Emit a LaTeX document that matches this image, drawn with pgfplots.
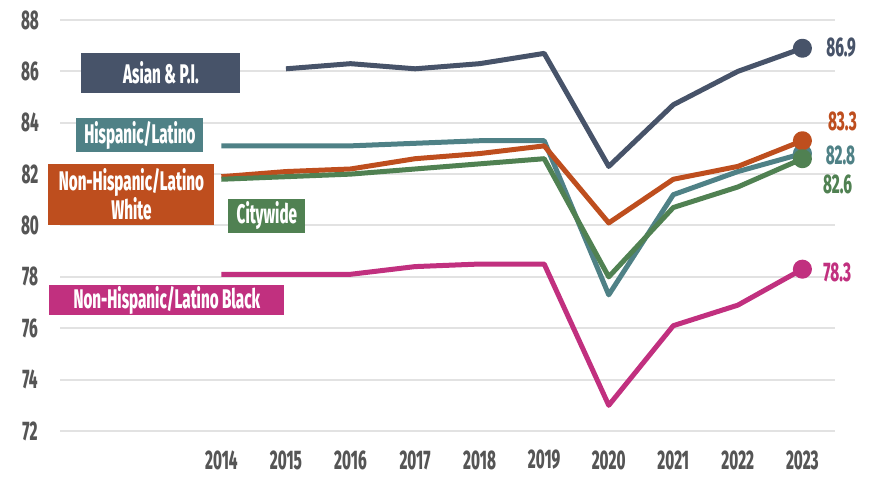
\documentclass[border=0pt]{standalone}
\usepackage{fontspec}
\setmainfont{Fira Sans}[FakeStretch=0.565, BoldFont={Fira Sans ExtraBold}]
\usepackage{pgfplots}
\pgfplotsset{compat=1.18}
\definecolor{asian}{HTML}{475369}
\definecolor{hisp}{HTML}{4F8186}
\definecolor{cityw}{HTML}{508152}
\definecolor{gridc}{HTML}{E2E2E2}
\definecolor{tickc}{HTML}{555555}
\definecolor{whiteorg}{HTML}{BE4E1E}
\definecolor{blackmag}{HTML}{C1307F}
\definecolor{pw}{HTML}{FFFFFF}
\newcommand{\bigf}{\bfseries\fontsize{27}{26}\selectfont}
\begin{document}
\begin{tikzpicture}
\begin{axis}[
  scale only axis, width=774.7bp, height=411bp,
  xmin=2011.5, xmax=2023.5, ymin=72, ymax=88,
  ytick={72,74,...,88}, xtick={2014,...,2023},
  ymajorgrids, grid style={gridc, line width=2bp},
  axis line style={draw=none}, major tick style={draw=none},
  /pgf/number format/assume math mode=true,
  /pgf/number format/1000 sep={},
  tick label style={font=\bigf, text=tickc},
  yticklabel style={anchor=center, xshift=-30bp},
  xticklabel style={anchor=center, yshift=-29bp},
  clip=false,
  every axis plot/.append style={line width=5bp, line join=round},
]
\addplot[blackmag, mark=none] coordinates {(2014,78.1)(2015,78.1)(2016,78.1)(2017,78.4)(2018,78.5)(2019,78.5)(2020,73.0)(2021,76.1)(2022,76.9)(2023,78.3)};
\addplot[asian, mark=none] coordinates {(2015,86.1)(2016,86.3)(2017,86.1)(2018,86.3)(2019,86.7)(2020,82.3)(2021,84.7)(2022,86.0)(2023,86.9)};
\addplot[hisp, mark=none] coordinates {(2014,83.1)(2015,83.1)(2016,83.1)(2017,83.2)(2018,83.3)(2019,83.3)(2020,77.3)(2021,81.2)(2022,82.1)(2023,82.8)};
\addplot[whiteorg, mark=none] coordinates {(2014,81.9)(2015,82.1)(2016,82.2)(2017,82.6)(2018,82.8)(2019,83.1)(2020,80.1)(2021,81.8)(2022,82.3)(2023,83.3)};
\addplot[cityw, mark=none] coordinates {(2014,81.8)(2015,81.9)(2016,82.0)(2017,82.2)(2018,82.4)(2019,82.6)(2020,78.0)(2021,80.7)(2022,81.5)(2023,82.6)};
% end markers
\addplot[blackmag, only marks, mark=*, mark size=7bp] coordinates {(2023,78.3)};
\addplot[asian, only marks, mark=*, mark size=7bp] coordinates {(2023,86.9)};
\addplot[hisp, only marks, mark=*, mark size=7bp] coordinates {(2023,82.8)};
\addplot[whiteorg, only marks, mark=*, mark size=7bp] coordinates {(2023,83.3)};
\addplot[cityw, only marks, mark=*, mark size=7bp] coordinates {(2023,82.6)};
% end labels
\node[font=\bigf, text=asian] at (axis cs:2023.599,86.91) {86.9};
\node[font=\bigf, text=whiteorg] at (axis cs:2023.62,84.07) {83.3};
\node[font=\bigf, text=hisp] at (axis cs:2023.59,82.745) {82.8};
\node[font=\bigf, text=cityw] at (axis cs:2023.545,81.60) {82.6};
\node[font=\bigf, text=blackmag] at (axis cs:2023.54,78.19) {78.3};
% series boxes
\node[fill=asian, text=pw, font=\bigf, inner sep=0pt, minimum width=159bp, minimum height=40bp] at (axis cs:2013.063,85.94) {Asian \& P.I.};
\node[fill=hisp, text=pw, font=\bigf, inner sep=0pt, minimum width=127bp, minimum height=34bp] at (axis cs:2012.738,83.52) {Hispanic/Latino};
\node[fill=whiteorg, text=pw, font=\bigf, inner sep=0pt, minimum width=166bp, minimum height=61bp, align=center] at (axis cs:2012.606,81.21) {Non-Hispanic/Latino\\White};
\node[fill=cityw, text=pw, font=\bigf, inner sep=0pt, minimum width=77bp, minimum height=34bp] at (axis cs:2014.705,80.37) {Citywide};
\node[fill=blackmag, text=pw, font=\bigf, inner sep=0pt, minimum width=235bp, minimum height=30bp] at (axis cs:2013.156,77.10) {Non-Hispanic/Latino Black};
\end{axis}
\pgfresetboundingbox
\path[use as bounding box] (-60bp,-67bp) rectangle (820bp,431bp);
\end{tikzpicture}
\end{document}
